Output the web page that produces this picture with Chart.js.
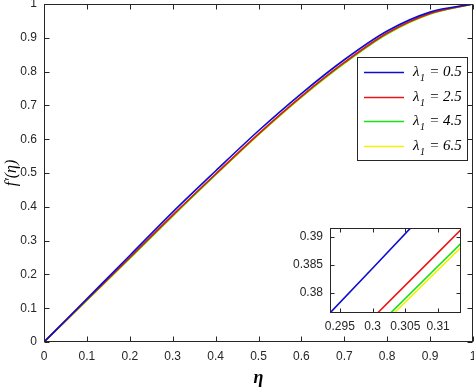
<!DOCTYPE html>
<html>
<head>
<meta charset="utf-8">
<script src="https://cdn.jsdelivr.net/npm/chart.js@4.4.0/dist/chart.umd.min.js"></script>
<style>
  html, body { margin: 0; padding: 0; background: #fff; }
  #wrap { position: relative; width: 474px; height: 387px; }
  #main { position: absolute; left: 0; top: 0; }
  #inset { position: absolute; left: 280px; top: 220px; }
</style>
</head>
<body>
<div id="wrap">
  <canvas id="main" width="474" height="387"></canvas>
  <canvas id="inset" width="190" height="115"></canvas>
</div>
<script>
// main curves
const eta = [0, 0.1, 0.2, 0.3, 0.4, 0.5, 0.6, 0.7, 0.8, 0.9, 1.0];
const fLambda05 = [0, 0.128, 0.256, 0.3844, 0.506, 0.625, 0.735, 0.835, 0.920, 0.976, 1.0];
const fLambda25 = [0, 0.125, 0.250, 0.3755, 0.497, 0.616, 0.727, 0.827, 0.914, 0.972, 1.0];
const fLambda45 = [0, 0.124, 0.248, 0.3732, 0.495, 0.614, 0.725, 0.825, 0.912, 0.971, 1.0];
const fLambda65 = [0, 0.123, 0.247, 0.3726, 0.494, 0.613, 0.724, 0.824, 0.911, 0.970, 1.0];
const lambdaValues = ['0.5', '2.5', '4.5', '6.5'];
const axisTicks = [0, 0.1, 0.2, 0.3, 0.4, 0.5, 0.6, 0.7, 0.8, 0.9, 1];

// zoomed inset
const etaZoom = [0.29, 0.30, 0.31, 0.32];
const zLambda05 = [0.3721, 0.3844, 0.3968, 0.4090];
const zLambda25 = [0.3638, 0.3755, 0.3872, 0.3989];
const zLambda45 = [0.3616, 0.3732, 0.3848, 0.3964];
const zLambda65 = [0.3611, 0.3726, 0.3841, 0.3956];
const zoomXTicks = [0.295, 0.3, 0.305, 0.31];
const zoomYTicks = [0.38, 0.385, 0.39];

const lineColors = ['#0c0cd2', '#e8161a', '#16e016', '#f2f20a'];
const axisColor = '#262626';
const tickFont = { family: 'Liberation Sans, Arial, sans-serif', size: 12 };

function toPoints(xs, ys) {
  return xs.map((x, i) => ({ x: x, y: ys[i] }));
}

function fmt(v) {
  return String(+v.toFixed(4));
}

// box and inward ticks, matlab style
function boxPlugin(xTicks, yTicks, len, bg) {
  return {
    id: 'box',
    beforeDraw(chart) {
      if (!bg) return;
      const a = chart.chartArea, ctx = chart.ctx;
      ctx.save();
      ctx.fillStyle = '#fff';
      ctx.fillRect(a.left, a.top, a.right - a.left, a.bottom - a.top);
      ctx.restore();
    },
    afterDraw(chart) {
      const a = chart.chartArea, ctx = chart.ctx;
      const xs = chart.scales.x, ys = chart.scales.y;
      ctx.save();
      ctx.strokeStyle = axisColor;
      ctx.lineWidth = 1;
      const L = Math.round(a.left) + 0.5, R = Math.round(a.right) - 0.5;
      const T = Math.round(a.top) + 0.5, B = Math.round(a.bottom) - 0.5;
      ctx.strokeRect(L, T, R - L, B - T);
      ctx.beginPath();
      xTicks.forEach(v => {
        const px = Math.round(xs.getPixelForValue(v)) + 0.5;
        ctx.moveTo(px, B); ctx.lineTo(px, B - len);
        ctx.moveTo(px, T); ctx.lineTo(px, T + len);
      });
      yTicks.forEach(v => {
        const py = Math.round(ys.getPixelForValue(v)) + 0.5;
        ctx.moveTo(L, py); ctx.lineTo(L + len, py);
        ctx.moveTo(R, py); ctx.lineTo(R - len, py);
      });
      ctx.stroke();
      ctx.restore();
    }
  };
}

// axis titles and legend with subscript
const mainDecor = {
  id: 'decor',
  afterDraw(chart) {
    const ctx = chart.ctx, a = chart.chartArea;
    ctx.save();
    ctx.fillStyle = '#000';
    ctx.textAlign = 'center';
    ctx.textBaseline = 'middle';
    ctx.font = 'italic bold 18px "Liberation Serif", "Times New Roman", serif';
    ctx.fillText('\u03b7', (a.left + a.right) / 2, 378);

    ctx.translate(12, (a.top + a.bottom) / 2);
    ctx.rotate(-Math.PI / 2);
    ctx.font = 'italic 16px "Liberation Serif", "Times New Roman", serif';
    ctx.fillText('f\u2032(\u03b7)', 0, 0);
    ctx.restore();

    // legend
    ctx.save();
    ctx.fillStyle = '#fff';
    ctx.fillRect(357, 57, 110, 103);
    ctx.strokeStyle = axisColor;
    ctx.lineWidth = 1;
    ctx.strokeRect(357.5, 57.5, 110, 103);
    chart.data.datasets.forEach((ds, i) => {
      const y = Math.round(72 + i * 24.7) + 0.5;
      ctx.strokeStyle = ds.borderColor;
      ctx.lineWidth = 1.6;
      ctx.beginPath();
      ctx.moveTo(364, y); ctx.lineTo(404, y);
      ctx.stroke();
      ctx.fillStyle = '#000';
      ctx.textAlign = 'left';
      ctx.textBaseline = 'middle';
      let x = 413;
      ctx.font = 'italic 15px "Liberation Serif", "Times New Roman", serif';
      ctx.fillText('\u03bb', x, y);
      x += ctx.measureText('\u03bb').width;
      ctx.font = 'italic 10px "Liberation Serif", "Times New Roman", serif';
      ctx.fillText('1', x + 0.5, y + 6);
      x += ctx.measureText('1').width + 1;
      ctx.font = 'italic 15px "Liberation Serif", "Times New Roman", serif';
      ctx.fillText(' = ' + lambdaValues[i], x, y);
    });
    ctx.restore();
  }
};

const mainSeries = [fLambda05, fLambda25, fLambda45, fLambda65];
const zoomSeries = [zLambda05, zLambda25, zLambda45, zLambda65];

function makeSets(xs, series, smooth) {
  return series.map((ys, i) => ({
    label: '\u03bb1 = ' + lambdaValues[i],
    data: toPoints(xs, ys),
    borderColor: lineColors[i],
    borderWidth: 1.6,
    pointRadius: 0,
    fill: false,
    clip: 0,
    cubicInterpolationMode: smooth ? 'monotone' : 'default',
    tension: 0
  }));
}

function axisOpts(min, max, ticks, side, pad) {
  return {
    type: 'linear',
    min: min,
    max: max,
    grid: { display: false, drawTicks: false },
    border: { display: false },
    afterBuildTicks(scale) { scale.ticks = ticks.map(v => ({ value: v })); },
    afterFit(scale) {
      if (side.w !== undefined) scale.width = side.w;
      if (side.h !== undefined) scale.height = side.h;
      // don't let end labels shrink the plot area
      scale.paddingLeft = 0;
      scale.paddingRight = 0;
      scale.paddingTop = 0;
      scale.paddingBottom = 0;
    },
    ticks: {
      color: axisColor,
      font: tickFont,
      padding: pad,
      maxRotation: 0,
      autoSkip: false,
      callback: v => fmt(v)
    }
  };
}

new Chart(document.getElementById('main').getContext('2d'), {
  type: 'line',
  data: { datasets: makeSets(eta, mainSeries, true) },
  options: {
    responsive: false,
    animation: false,
    devicePixelRatio: 1,
    layout: { padding: { top: 4, right: 1, left: 0, bottom: 0 } },
    plugins: { legend: { display: false }, tooltip: { enabled: false } },
    scales: {
      x: axisOpts(0, 1, axisTicks, { h: 45 }, 7),
      y: axisOpts(0, 1, axisTicks, { w: 44 }, 7)
    }
  },
  plugins: [boxPlugin(axisTicks, axisTicks, 5, false), mainDecor]
});

new Chart(document.getElementById('inset').getContext('2d'), {
  type: 'line',
  data: { datasets: makeSets(etaZoom, zoomSeries, false) },
  options: {
    responsive: false,
    animation: false,
    devicePixelRatio: 1,
    layout: { padding: { top: 8, right: 9, left: 0, bottom: 0 } },
    plugins: { legend: { display: false }, tooltip: { enabled: false } },
    scales: {
      x: axisOpts(0.2935, 0.3135, zoomXTicks, { h: 22 }, 6),
      y: axisOpts(0.3764, 0.3916, zoomYTicks, { w: 50 }, 7)
    }
  },
  plugins: [boxPlugin(zoomXTicks, zoomYTicks, 4, true)]
});
</script>
</body>
</html>
